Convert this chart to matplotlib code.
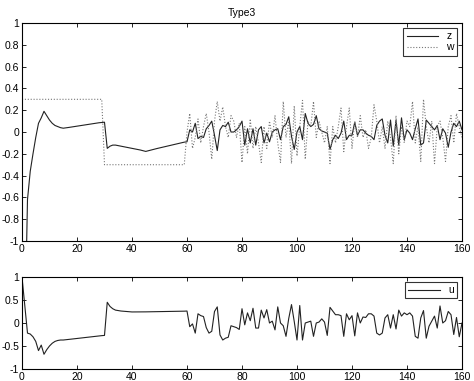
import numpy as np
import matplotlib
matplotlib.use("Agg")
import matplotlib.pyplot as plt

t = np.arange(0, 161)

z_start = [-3.0, -1.9, -0.62, -0.36, -0.20, -0.05, 0.08, 0.13, 0.19, 0.15,
           0.11, 0.08, 0.06, 0.05, 0.04, 0.035, 0.038, 0.042, 0.046, 0.05,
           0.053, 0.057, 0.061, 0.065, 0.069, 0.073, 0.077, 0.081, 0.085, 0.088,
           0.09, -0.15, -0.13, -0.12, -0.12, -0.125, -0.13, -0.135, -0.14, -0.145,
           -0.15, -0.155, -0.16, -0.165, -0.172, -0.178, -0.172, -0.165, -0.158, -0.152,
           -0.146, -0.14, -0.134, -0.128, -0.122, -0.116, -0.11, -0.104, -0.098, -0.093]
z_tail = [-0.09, 0.02, 0.00, 0.08, -0.06, -0.04, -0.05, 0.03, 0.06, 0.10,
          -0.03, -0.17, 0.02, 0.06, 0.05, 0.09, 0.00, 0.00, 0.02, 0.05,
          0.10, -0.12, 0.03, -0.10, 0.03, -0.12, 0.02, 0.05, -0.10, -0.01,
          -0.09, 0.00, 0.02, 0.03, -0.07, 0.05, 0.07, 0.14, -0.04, -0.16,
          0.00, 0.05, -0.07, 0.17, 0.08, 0.05, 0.07, 0.15, 0.03, 0.01,
          0.00, -0.01, -0.16, -0.07, -0.03, -0.06, -0.01, 0.10, -0.07, -0.03,
          -0.03, 0.09, -0.03, 0.02, 0.02, -0.01, -0.03, -0.04, -0.07, 0.06,
          0.10, 0.12, -0.03, -0.10, 0.11, -0.13, 0.11, -0.12, 0.13, -0.07,
          0.02, -0.01, -0.07, 0.03, 0.12, -0.12, -0.10, 0.11, 0.08, 0.05,
          0.02, 0.06, -0.07, 0.03, -0.01, -0.14, 0.00, 0.08, 0.05, 0.10,
          0.02]
z = z_start + z_tail

w_start = [0.3] * 30 + [-0.3] * 30
w_tail = [0.00, 0.17, -0.15, -0.05, 0.12, -0.10, 0.05, 0.17, 0.00, -0.25,
          0.10, 0.28, 0.10, 0.23, 0.05, -0.05, 0.15, 0.10, -0.05, 0.08,
          -0.28, 0.05, -0.20, 0.12, -0.15, 0.05, -0.10, -0.28, 0.05, -0.15,
          0.10, -0.05, 0.15, -0.10, -0.28, 0.28, -0.05, 0.10, -0.29, 0.24,
          -0.22, 0.05, 0.29, -0.25, 0.10, 0.05, 0.28, -0.05, 0.10, 0.00,
          -0.10, 0.05, -0.29, 0.05, -0.10, 0.05, 0.22, -0.18, 0.05, 0.22,
          -0.15, 0.10, -0.05, 0.15, -0.05, 0.02, -0.15, -0.05, 0.25, 0.10,
          -0.10, 0.05, -0.15, 0.10, -0.05, -0.29, 0.15, -0.20, 0.05, -0.10,
          0.10, 0.05, 0.28, -0.10, 0.05, -0.27, 0.30, 0.05, -0.10, 0.10,
          -0.29, 0.05, 0.10, -0.05, -0.27, 0.05, 0.15, -0.10, 0.17, 0.05,
          -0.05]
w = w_start + w_tail

u_start = [1.00, 0.39, -0.22, -0.24, -0.30, -0.40, -0.60, -0.48, -0.68, -0.58,
           -0.50, -0.44, -0.40, -0.38, -0.37, -0.37, -0.364, -0.357, -0.35, -0.343,
           -0.336, -0.329, -0.322, -0.315, -0.308, -0.301, -0.294, -0.287, -0.28, -0.275,
           -0.27, 0.45, 0.36, 0.31, 0.28, 0.27, 0.26, 0.255, 0.25, 0.245,
           0.24, 0.24, 0.24, 0.24, 0.241, 0.242, 0.243, 0.244, 0.245, 0.246,
           0.247, 0.248, 0.249, 0.25, 0.251, 0.252, 0.253, 0.254, 0.255, 0.257]
u_tail = [0.26, -0.08, -0.02, -0.22, 0.20, 0.16, 0.14, -0.10, -0.22, -0.18,
          0.25, 0.35, -0.26, -0.37, -0.33, -0.31, -0.06, -0.08, -0.10, -0.14,
          0.31, -0.04, 0.22, 0.05, 0.32, -0.11, -0.11, 0.28, 0.11, 0.29,
          0.00, 0.04, -0.15, 0.35, 0.00, -0.06, -0.29, 0.10, 0.40, 0.03,
          -0.37, 0.38, -0.37, 0.00, 0.02, 0.04, -0.29, 0.00, 0.02, 0.09,
          0.02, -0.27, 0.34, 0.26, 0.18, 0.18, 0.16, -0.29, 0.20, 0.07,
          0.16, -0.28, 0.22, 0.00, 0.13, 0.12, 0.20, 0.20, 0.15, -0.22,
          -0.26, -0.22, 0.11, 0.18, -0.11, 0.18, -0.13, 0.28, 0.15, 0.22,
          0.18, 0.22, 0.15, -0.29, -0.33, 0.11, 0.27, -0.33, -0.07, 0.04,
          0.15, -0.11, 0.37, 0.00, 0.05, 0.25, 0.18, -0.25, 0.12, -0.30,
          0.00]
u = u_start + u_tail

title = "Type3"
top_yticks = [-1, -0.8, -0.6, -0.4, -0.2, 0, 0.2, 0.4, 0.6, 0.8, 1]
bot_yticks = [-1, -0.5, 0, 0.5, 1]
xticks = [0, 20, 40, 60, 80, 100, 120, 140, 160]

plt.rcParams['font.family'] = ['Liberation Sans', 'DejaVu Sans']
plt.rcParams['axes.unicode_minus'] = False

fig = plt.figure(figsize=(4.74, 3.81), dpi=100)
ax1 = fig.add_axes([0.0464, 0.3675, 0.9283, 0.572])
ax2 = fig.add_axes([0.0464, 0.0315, 0.9283, 0.2415])

lc = '#222222'
ax1.plot(t, z, color=lc, lw=0.8, label='z')
ax1.plot(t, w, color='#777777', lw=0.8, ls=(0, (1, 1.6)), label='w')
ax1.set_xlim(0, 160)
ax1.set_ylim(-1, 1)
ax1.set_yticks(top_yticks)
ax1.set_yticklabels([f"{v:g}" for v in top_yticks])
ax1.set_xticks(xticks)
ax1.set_title(title, fontsize=7.5, pad=5)
leg1 = ax1.legend(loc='upper right', fontsize=7.5, frameon=True, fancybox=False,
                  edgecolor='black', handlelength=3.0, borderpad=0.3,
                  labelspacing=0.1, handletextpad=0.8, borderaxespad=0.5)
leg1.get_frame().set_linewidth(0.8)

ax2.plot(t, u, color=lc, lw=0.8, label='u')
ax2.set_xlim(0, 160)
ax2.set_ylim(-1, 1)
ax2.set_yticks(bot_yticks)
ax2.set_yticklabels([f"{v:g}" for v in bot_yticks])
ax2.set_xticks(xticks)
leg2 = ax2.legend(loc='upper right', fontsize=7.5, frameon=True, fancybox=False,
                  edgecolor='black', handlelength=3.0, borderpad=0.3,
                  labelspacing=0.1, handletextpad=0.8, borderaxespad=0.5)
leg2.get_frame().set_linewidth(0.8)

for ax in (ax1, ax2):
    ax.tick_params(direction='in', top=True, right=True, labelsize=7.5,
                   length=3, width=0.6, pad=2)
    for s in ax.spines.values():
        s.set_linewidth(0.8)

fig.savefig('out.png', dpi=100)
